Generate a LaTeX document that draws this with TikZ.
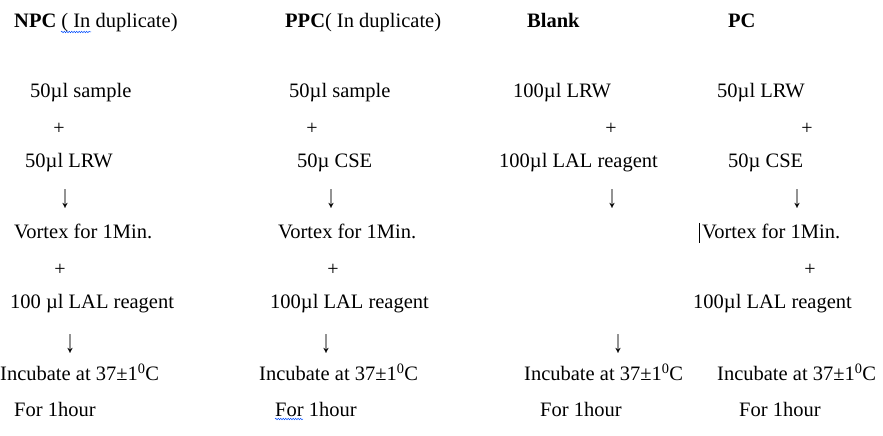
\documentclass[tikz,border=0pt]{standalone}
\usepackage{fontspec}
\setmainfont{Liberation Serif}
\usetikzlibrary{decorations.pathmorphing}

\begin{document}
\begin{tikzpicture}[x=1bp,y=-1bp]
  \tikzstyle{txt}=[anchor=base west,inner sep=0pt,font=\fontsize{20.5bp}{24bp}\selectfont]
  \tikzstyle{sym}=[anchor=center,inner sep=0pt,font=\fontsize{20bp}{24bp}\selectfont]
  \tikzstyle{squiggle}=[blue!70!cyan,line width=0.5pt,decorate,decoration={snake,amplitude=0.7pt,segment length=2.5pt}]
  \newcommand{\dn}{\scalebox{1}[1.6]{↓}}
  \useasboundingbox (0,0) rectangle (883,436);

  % NPC
  \node[txt] (N_0) at (14,28) {\textbf{NPC} ( In duplicate)};
  \node[txt] (N_1) at (30,98) {50µl sample};
  \node[sym] (N_2) at (59,129) {+};
  \node[txt] (N_3) at (25,168) {50µl LRW};
  \node[sym] (N_4) at (65,199) {\dn};
  \node[txt] (N_5) at (14,239) {Vortex for 1Min.};
  \node[sym] (N_6) at (60,270) {+};
  \node[txt] (N_7) at (10,309) {100 µl LAL reagent};
  \node[sym] (N_8) at (70,344) {\dn};
  \node[txt] (N_9) at (0,381) {Incubate at 37±1\textsuperscript{0}C};
  \node[txt] (N_10) at (14,416) {For 1hour};

  % PPC
  \node[txt] (P_0) at (285,28) {\textbf{PPC}( In duplicate)};
  \node[txt] (P_1) at (289,98) {50µl sample};
  \node[sym] (P_2) at (312,129) {+};
  \node[txt] (P_3) at (297,168) {50µ CSE};
  \node[sym] (P_4) at (331,199) {\dn};
  \node[txt] (P_5) at (278,239) {Vortex for 1Min.};
  \node[sym] (P_6) at (333,270) {+};
  \node[txt] (P_7) at (270,309) {100µl LAL reagent};
  \node[sym] (P_8) at (326,344) {\dn};
  \node[txt] (P_9) at (259,381) {Incubate at 37±1\textsuperscript{0}C};
  \node[txt] (P_10) at (275,416) {For 1hour};

  % Blank
  \node[txt] (B_0) at (527,28) {\textbf{Blank}};
  \node[txt] (B_1) at (513,98) {100µl LRW};
  \node[sym] (B_2) at (611,129) {+};
  \node[txt] (B_3) at (499,168) {100µl LAL reagent};
  \node[sym] (B_4) at (612,199) {\dn};
  \node[sym] (B_8) at (618,344) {\dn};
  \node[txt] (B_9) at (524,381) {Incubate at 37±1\textsuperscript{0}C};
  \node[txt] (B_10) at (540,416) {For 1hour};

  % PC
  \node[txt] (C_0) at (728,28) {\textbf{PC}};
  \node[txt] (C_1) at (717,98) {50µl LRW};
  \node[sym] (C_2) at (807,129) {+};
  \node[txt] (C_3) at (728,168) {50µ CSE};
  \node[sym] (C_4) at (797,199) {\dn};
  \node[txt] (C_5) at (702,239) {Vortex for 1Min.};
  \node[sym] (C_6) at (810,270) {+};
  \node[txt] (C_7) at (693,309) {100µl LAL reagent};
  \node[txt] (C_9) at (717,381) {Incubate at 37±1\textsuperscript{0}C};
  \node[txt] (C_10) at (739,416) {For 1hour};

  % spell check marks and cursor
  \draw[squiggle] (61,32) -- (91,32);
  \draw[squiggle] (275,419) -- (303,419);
  \draw[line width=0.8pt] (699,223) -- (699,243);
\end{tikzpicture}
\end{document}
